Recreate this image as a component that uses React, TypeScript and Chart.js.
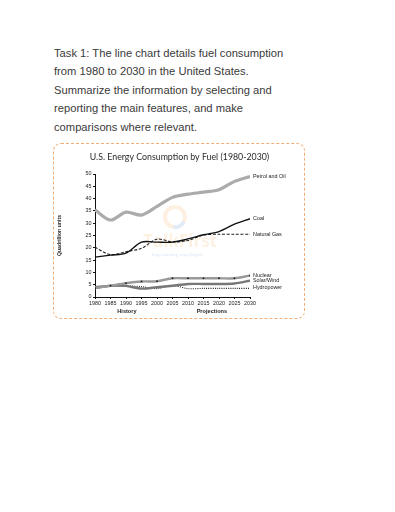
import React, { useEffect, useRef } from "react";
import { Chart, registerables } from "chart.js";
Chart.register(...registerables);

const years = [1980, 1985, 1990, 1995, 2000, 2005, 2010, 2015, 2020, 2025, 2030];
const petrol = [35.4, 31.3, 34.5, 33.3, 36.8, 40.5, 41.8, 42.6, 43.6, 47.0, 49.0];
const coal = [16.2, 17.0, 17.8, 22.3, 22.3, 22.3, 23.6, 25.3, 26.6, 29.6, 31.8];
const natGas = [20.2, 17.2, 18.4, 19.8, 23.5, 22.4, 23.0, 25.2, 25.5, 25.5, 25.5];
const nuclear = [3.6, 4.6, 5.6, 6.3, 6.4, 7.6, 7.6, 7.6, 7.6, 7.6, 8.7];
const solarWind = [3.9, 4.6, 4.5, 3.4, 4.0, 4.6, 5.3, 5.3, 5.3, 5.5, 6.6];
const hydro = [3.3, 4.4, 4.5, 4.2, 3.4, 4.7, 3.4, 3.5, 3.5, 3.5, 3.5];
const seriesLabels = ["Petrol and Oil", "Coal", "Natural Gas", "Nuclear", "Solar/Wind", "Hydropower"];
const yTicksMax = 50;
const chartTitle = "U.S. Energy Consumption by Fuel (1980-2030)";
const yAxisTitle = "Quadrillion units";
const periodLabels = [
  { text: "History", year: 1990.3 },
  { text: "Projections", year: 2017.7 },
];

const pts = (vals: number[]) => vals.map((v, i) => ({ x: years[i], y: v }));

const overlayPlugin = {
  id: "overlay",
  afterDatasetsDraw(chart: any) {
    const { ctx, scales } = chart;
    const xs = scales.x;
    const ys = scales.y;
    ctx.save();
    // title
    ctx.fillStyle = "#2a2a2a";
    ctx.font = "8.8px Lato, 'Open Sans', sans-serif";
    ctx.textAlign = "center";
    ctx.textBaseline = "middle";
    ctx.fillText(chartTitle, chart.width / 2 + 0.5, 14);
    // y axis title
    ctx.save();
    ctx.translate(ys.left - 5, (ys.top + ys.bottom) / 2);
    ctx.rotate(-Math.PI / 2);
    ctx.font = "bold 5.2px 'Liberation Sans', sans-serif";
    ctx.fillStyle = "#222";
    ctx.fillText(yAxisTitle, 0, 0);
    ctx.restore();
    // end labels
    ctx.font = "5.4px 'Liberation Sans', sans-serif";
    ctx.fillStyle = "#222";
    ctx.textAlign = "left";
    const ends = [petrol, coal, natGas, nuclear, solarWind, hydro];
    const offs = [0, 0, 0, 0, 0, -1];
    ends.forEach((arr, i) => {
      const v = arr[arr.length - 1];
      ctx.fillText(seriesLabels[i], xs.getPixelForValue(2030) + 3, ys.getPixelForValue(v) + offs[i]);
    });
    // period labels
    ctx.font = "bold 5.6px 'Liberation Sans', sans-serif";
    ctx.textAlign = "center";
    periodLabels.forEach((p) => {
      ctx.fillText(p.text, xs.getPixelForValue(p.year), ys.bottom + 14);
    });
    ctx.restore();
  },
  beforeDatasetsDraw(chart: any) {
    const { ctx } = chart;
    ctx.save();
    ctx.textAlign = "center";
    ctx.textBaseline = "middle";
    ctx.lineWidth = 4;
    ctx.strokeStyle = "rgba(245,185,120,0.22)";
    ctx.beginPath();
    ctx.arc(122, 74, 10, Math.PI * 0.55, Math.PI * 2.15);
    ctx.stroke();
    ctx.strokeStyle = "rgba(120,170,220,0.22)";
    ctx.beginPath();
    ctx.arc(122, 74, 10, Math.PI * 0.15, Math.PI * 0.55);
    ctx.stroke();
    ctx.font = "bold 17px 'Open Sans', sans-serif";
    ctx.fillStyle = "rgba(245,185,120,0.2)";
    ctx.fillText("TalkFirst", 127, 99);
    ctx.font = "3.8px 'Open Sans', sans-serif";
    ctx.fillStyle = "rgba(120,170,220,0.35)";
    ctx.fillText("Enjoy Learning, enjoy English", 124, 112);
    ctx.restore();
  },
};

function EnergyChart() {
  const ref = useRef<HTMLCanvasElement>(null);
  useEffect(() => {
    if (!ref.current) return;
    const common = { pointRadius: 0, tension: 0.3, fill: false };
    const chart = new Chart(ref.current, {
      type: "line",
      data: {
        datasets: [
          { ...common, label: "p1", data: pts(petrol), borderColor: "#ababab", borderWidth: 3.2 },
          { ...common, label: "p2", data: pts(petrol), borderColor: "#d8d8d8", borderWidth: 0.9 },
          { ...common, label: "c", data: pts(coal), borderColor: "#111", borderWidth: 1.4 },
          { ...common, label: "g", data: pts(natGas), borderColor: "#222", borderWidth: 1.1, borderDash: [3, 1.6] },
          { ...common, label: "n", data: pts(nuclear), borderColor: "#9a9a9a", borderWidth: 2.4,
            pointRadius: 1.1, pointStyle: "rect", pointBackgroundColor: "#111", pointBorderColor: "#111", pointBorderWidth: 0 },
          { ...common, label: "s1", data: pts(solarWind), borderColor: "#777", borderWidth: 2.4 },
          { ...common, label: "s2", data: pts(solarWind), borderColor: "#fff", borderWidth: 1 },
          { ...common, label: "h", data: pts(hydro), borderColor: "#222", borderWidth: 1.1, borderDash: [1, 1.2] },
        ],
      },
      options: {
        animation: false,
        responsive: false,
        maintainAspectRatio: false,
        layout: { padding: { left: 12, right: 55, top: 31, bottom: 0 } },
        plugins: { legend: { display: false }, tooltip: { enabled: false }, title: { display: false } },
        scales: {
          x: {
            type: "linear",
            min: 1980,
            max: 2030,
            afterFit: (s: any) => { s.height = 22; },
            ticks: { stepSize: 5, color: "#222", font: { size: 5.4, family: "'Liberation Sans', sans-serif" }, padding: 1, maxRotation: 0, autoSkip: false, callback: (v: any) => String(v) },
            grid: { display: true, drawOnChartArea: false, tickLength: 2, color: "#111" },
            border: { color: "#111", width: 1 },
          },
          y: {
            min: 0,
            max: yTicksMax,
            afterFit: (s: any) => { s.width = 30; },
            ticks: { stepSize: 5, color: "#222", font: { size: 5.4, family: "'Liberation Sans', sans-serif" }, padding: 1.5 },
            grid: { display: true, drawOnChartArea: false, tickLength: 2, color: "#111" },
            border: { color: "#111", width: 1 },
          },
        },
      },
      plugins: [overlayPlugin],
    });
    return () => chart.destroy();
  }, []);
  return <canvas ref={ref} width={252} height={176} style={{ position: "absolute", left: 0, top: 0, width: 252, height: 176 }} />;
}

export default function App() {
  const lines = [
    "Task 1: The line chart details fuel consumption",
    "from 1980 to 2030 in the United States.",
    "Summarize the information by selecting and",
    "reporting the main features, and make",
    "comparisons where relevant.",
  ];
  return (
    <div style={{ position: "absolute", left: 0, top: 0, width: 395, height: 512, background: "#fff", overflow: "hidden" }}>
      <div style={{ position: "absolute", left: 54, top: 44, fontFamily: "'Liberation Sans', Arial, sans-serif", fontSize: 11.2, lineHeight: "18.4px", color: "#3a3a3a", whiteSpace: "nowrap" }}>
        {lines.map((l, i) => <div key={i}>{l}</div>)}
      </div>
      <div style={{ position: "absolute", left: 53, top: 143, width: 250, height: 174, border: "1px dashed #f0ad78", borderRadius: 8 }} />
      <div style={{ position: "absolute", left: 53, top: 143, width: 252, height: 176 }}>
        <EnergyChart />
      </div>
    </div>
  );
}
